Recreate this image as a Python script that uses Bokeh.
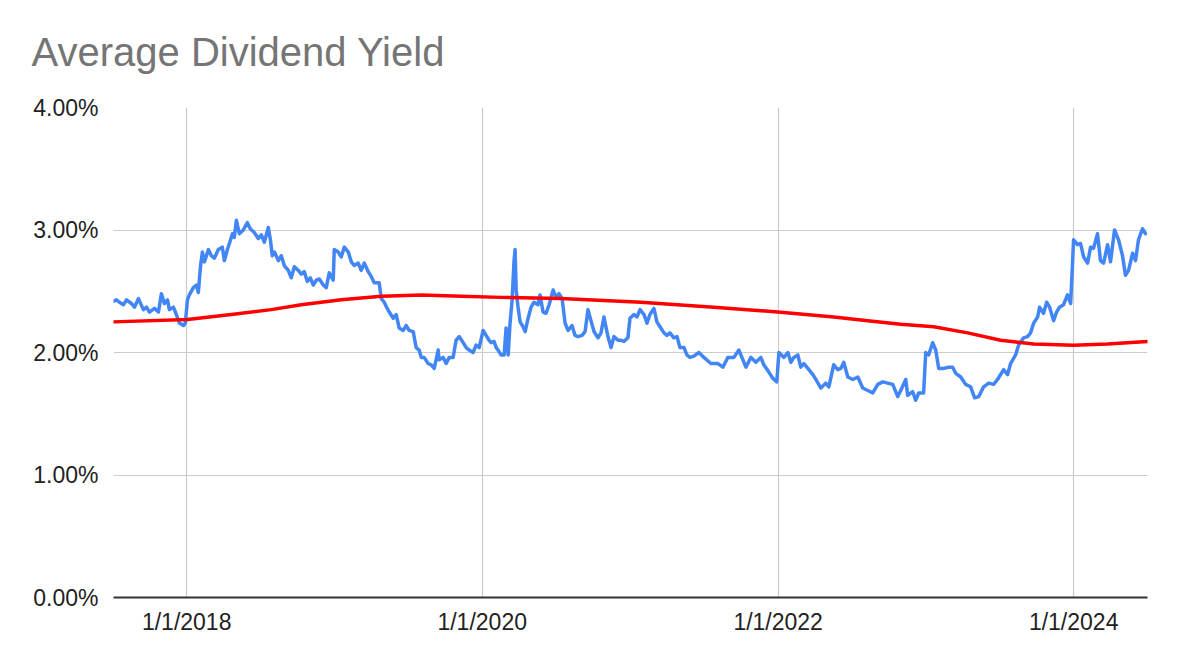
import numpy as np
import pandas as pd
from bokeh.plotting import figure
from bokeh.models import Range1d, FixedTicker, PrintfTickFormatter, Title
from bokeh.embed import file_html
from bokeh.resources import INLINE

# ---------------- data ----------------
# dates as decimal years, yields in percent
yield_years = [
    2017.511, 2017.525, 2017.545, 2017.572, 2017.593, 2017.626, 2017.647, 2017.674, 2017.707, 2017.728,
    2017.748, 2017.782, 2017.809, 2017.829, 2017.849, 2017.870, 2017.883, 2017.910, 2017.930, 2017.951,
    2017.978, 2017.991, 2018.005, 2018.018, 2018.045, 2018.066, 2018.079, 2018.093, 2018.106, 2018.120,
    2018.147, 2018.167, 2018.187, 2018.214, 2018.241, 2018.255, 2018.275, 2018.289, 2018.309, 2018.322,
    2018.336, 2018.356, 2018.383, 2018.410, 2018.430, 2018.457, 2018.484, 2018.505, 2018.525, 2018.552,
    2018.566, 2018.579, 2018.593, 2018.620, 2018.640, 2018.660, 2018.687, 2018.707, 2018.728, 2018.755,
    2018.775, 2018.795, 2018.816, 2018.836, 2018.856, 2018.876, 2018.897, 2018.924, 2018.944, 2018.964,
    2018.991, 2018.998, 2019.025, 2019.045, 2019.066, 2019.093, 2019.113, 2019.133, 2019.160, 2019.180,
    2019.201, 2019.228, 2019.248, 2019.268, 2019.302, 2019.316, 2019.336, 2019.356, 2019.370, 2019.397,
    2019.417, 2019.437, 2019.464, 2019.484, 2019.505, 2019.532, 2019.552, 2019.572, 2019.586, 2019.606,
    2019.633, 2019.653, 2019.674, 2019.701, 2019.707, 2019.734, 2019.755, 2019.775, 2019.802, 2019.822,
    2019.843, 2019.870, 2019.890, 2019.910, 2019.937, 2019.957, 2019.978, 2020.005, 2020.025, 2020.045,
    2020.059, 2020.079, 2020.093, 2020.106, 2020.126, 2020.147, 2020.160, 2020.174, 2020.187, 2020.201,
    2020.214, 2020.221, 2020.228, 2020.241, 2020.255, 2020.275, 2020.289, 2020.309, 2020.329, 2020.349,
    2020.376, 2020.390, 2020.410, 2020.430, 2020.451, 2020.478, 2020.498, 2020.518, 2020.539, 2020.559,
    2020.579, 2020.606, 2020.626, 2020.647, 2020.674, 2020.694, 2020.714, 2020.734, 2020.755, 2020.782,
    2020.802, 2020.822, 2020.849, 2020.870, 2020.890, 2020.917, 2020.937, 2020.957, 2020.984, 2020.998,
    2021.025, 2021.045, 2021.066, 2021.093, 2021.113, 2021.133, 2021.160, 2021.180, 2021.201, 2021.228,
    2021.248, 2021.268, 2021.295, 2021.316, 2021.336, 2021.363, 2021.383, 2021.403, 2021.430, 2021.464,
    2021.498, 2021.545, 2021.593, 2021.626, 2021.660, 2021.701, 2021.734, 2021.762, 2021.782, 2021.816,
    2021.849, 2021.883, 2021.903, 2021.937, 2021.964, 2021.991, 2022.005, 2022.039, 2022.066, 2022.086,
    2022.106, 2022.133, 2022.153, 2022.174, 2022.201, 2022.235, 2022.255, 2022.289, 2022.322, 2022.343,
    2022.376, 2022.403, 2022.424, 2022.444, 2022.471, 2022.505, 2022.539, 2022.572, 2022.606, 2022.640,
    2022.674, 2022.707, 2022.741, 2022.775, 2022.809, 2022.829, 2022.863, 2022.876, 2022.910, 2022.930,
    2022.951, 2022.984, 2022.998, 2023.018, 2023.045, 2023.066, 2023.086, 2023.120, 2023.153, 2023.180,
    2023.201, 2023.235, 2023.268, 2023.302, 2023.329, 2023.356, 2023.390, 2023.424, 2023.457, 2023.484,
    2023.505, 2023.525, 2023.552, 2023.572, 2023.606, 2023.626, 2023.660, 2023.687, 2023.707, 2023.728,
    2023.755, 2023.768, 2023.795, 2023.816, 2023.836, 2023.863, 2023.883, 2023.903, 2023.930, 2023.957,
    2023.978, 2023.991, 2023.998, 2024.025, 2024.045, 2024.066, 2024.093, 2024.113, 2024.133, 2024.160,
    2024.180, 2024.201, 2024.228, 2024.248, 2024.275, 2024.302, 2024.329, 2024.349, 2024.370, 2024.397,
    2024.417, 2024.437, 2024.464, 2024.484,
]
yield_pct = [
    2.42, 2.43, 2.41, 2.39, 2.43, 2.40, 2.37, 2.44, 2.35, 2.37,
    2.33, 2.36, 2.33, 2.48, 2.40, 2.43, 2.35, 2.37, 2.31, 2.24,
    2.22, 2.24, 2.43, 2.47, 2.53, 2.55, 2.49, 2.70, 2.82, 2.74,
    2.84, 2.79, 2.77, 2.84, 2.86, 2.75, 2.84, 2.89, 2.97, 2.94,
    3.08, 2.97, 3.00, 3.06, 3.01, 2.98, 2.93, 2.96, 2.90, 3.02,
    2.92, 2.79, 2.82, 2.75, 2.79, 2.71, 2.67, 2.61, 2.70, 2.67,
    2.64, 2.66, 2.58, 2.61, 2.55, 2.59, 2.60, 2.55, 2.53, 2.65,
    2.59, 2.84, 2.82, 2.78, 2.86, 2.82, 2.74, 2.71, 2.73, 2.67,
    2.73, 2.66, 2.62, 2.57, 2.57, 2.44, 2.41, 2.36, 2.33, 2.28,
    2.31, 2.20, 2.18, 2.22, 2.18, 2.17, 2.04, 2.02, 1.96, 1.96,
    1.91, 1.90, 1.87, 2.02, 1.94, 1.96, 1.91, 1.96, 1.96, 2.10,
    2.13, 2.08, 2.04, 2.02, 2.00, 2.06, 2.04, 2.18, 2.14, 2.10,
    2.08, 2.09, 2.04, 2.02, 1.98, 1.98, 2.20, 1.98, 2.24, 2.43,
    2.75, 2.84, 2.51, 2.37, 2.25, 2.21, 2.17, 2.28, 2.37, 2.41,
    2.39, 2.47, 2.33, 2.32, 2.39, 2.51, 2.45, 2.48, 2.44, 2.24,
    2.18, 2.22, 2.14, 2.13, 2.14, 2.17, 2.35, 2.26, 2.17, 2.12,
    2.16, 2.29, 2.13, 2.04, 2.13, 2.10, 2.10, 2.09, 2.12, 2.28,
    2.31, 2.29, 2.35, 2.31, 2.24, 2.31, 2.36, 2.25, 2.21, 2.16,
    2.14, 2.16, 2.12, 2.13, 2.04, 2.04, 1.98, 1.96, 1.97, 2.00,
    1.96, 1.91, 1.91, 1.88, 1.96, 1.96, 2.02, 1.94, 1.88, 1.96,
    1.92, 1.96, 1.90, 1.84, 1.79, 1.76, 2.00, 1.96, 2.00, 1.92,
    1.96, 1.98, 1.88, 1.91, 1.87, 1.82, 1.78, 1.71, 1.75, 1.72,
    1.90, 1.86, 1.87, 1.92, 1.80, 1.78, 1.80, 1.71, 1.69, 1.67,
    1.74, 1.76, 1.75, 1.74, 1.64, 1.69, 1.78, 1.65, 1.68, 1.61,
    1.67, 1.67, 2.00, 1.98, 2.08, 2.02, 1.87, 1.87, 1.88, 1.88,
    1.83, 1.80, 1.74, 1.72, 1.63, 1.64, 1.72, 1.75, 1.74, 1.78,
    1.82, 1.86, 1.82, 1.91, 1.98, 2.06, 2.12, 2.13, 2.16, 2.24,
    2.29, 2.37, 2.32, 2.41, 2.37, 2.26, 2.33, 2.37, 2.39, 2.47,
    2.40, 2.73, 2.92, 2.88, 2.89, 2.78, 2.73, 2.86, 2.85, 2.97,
    2.75, 2.73, 2.88, 2.74, 3.00, 2.92, 2.79, 2.63, 2.67, 2.81,
    2.75, 2.92, 3.01, 2.97,
]

# long-run average (red)
avg_years = [2017.505, 2018.005, 2018.302, 2018.572, 2018.775, 2019.045, 2019.316, 2019.586,
             2019.856, 2020.126, 2020.532, 2021.072, 2021.566, 2021.998, 2022.376, 2022.606,
             2022.829, 2023.052, 2023.282, 2023.505, 2023.728, 2023.998, 2024.228, 2024.498]
avg_pct = [2.25, 2.27, 2.31, 2.35, 2.39, 2.43, 2.46, 2.47,
           2.46, 2.45, 2.44, 2.41, 2.37, 2.33, 2.29, 2.26,
           2.23, 2.21, 2.16, 2.10, 2.07, 2.06, 2.07, 2.09]

x_span_years = [2017.505, 2024.498]
x_tick_labels = ["1/1/2018", "1/1/2020", "1/1/2022", "1/1/2024"]
y_ticks = [0, 1, 2, 3, 4]

title_text = "Average Dividend Yield"

# ---------------- helpers ----------------
BASE = pd.Timestamp("2018-01-01")


def to_dt(years):
    years = np.asarray(years, dtype=float)
    return BASE + pd.to_timedelta((years - 2018.0) * 365.25, unit="D")


def to_ms(ts):
    return int(pd.Timestamp(ts).value // 10**6)


x_tick_ms = [to_ms(pd.to_datetime(lbl, format="%m/%d/%Y")) for lbl in x_tick_labels]
span = to_dt(x_span_years)

FONT = "Liberation Sans"

p = figure(
    width=1164, height=645,
    x_axis_type="datetime",
    x_range=Range1d(span[0], span[1]),
    y_range=Range1d(0, 4),
    output_backend="svg",
    toolbar_location=None,
    min_border_left=113, min_border_right=17,
    min_border_top=107, min_border_bottom=48,
    background_fill_color="white", border_fill_color="white",
)
p.outline_line_color = None

# title: a small blank spacer title keeps the real title up near the top
spacer = Title(text=" ", text_font=FONT, text_font_size="10px", standoff=20,
               text_color="white")
main_title = Title(text=title_text, text_font=FONT, text_font_size="40px",
                   text_font_style="normal", text_color="#757575",
                   align="left", offset=-82, standoff=2)
p.add_layout(spacer, "above")
p.add_layout(main_title, "above")

# axes
xa = p.xaxis[0]
xa.ticker = FixedTicker(ticks=x_tick_ms)
xa.major_label_overrides = {ms: lbl for ms, lbl in zip(x_tick_ms, x_tick_labels)}
xa.major_tick_line_color = None
xa.minor_tick_line_color = None
xa.axis_line_color = "#333333"
xa.axis_line_width = 2
xa.major_label_text_font = FONT
xa.major_label_text_font_size = "23px"
xa.major_label_text_color = "#222222"
xa.major_label_standoff = 5

ya = p.yaxis[0]
ya.ticker = FixedTicker(ticks=y_ticks)
ya.formatter = PrintfTickFormatter(format="%.2f%%")
ya.major_tick_line_color = None
ya.minor_tick_line_color = None
ya.axis_line_color = None
ya.major_label_text_font = FONT
ya.major_label_text_font_size = "23px"
ya.major_label_text_color = "#222222"
ya.major_label_standoff = 9

p.xgrid.ticker = FixedTicker(ticks=x_tick_ms)
p.xgrid.grid_line_color = "#cccccc"
p.xgrid.grid_line_width = 1.2
p.ygrid.ticker = FixedTicker(ticks=y_ticks[1:])
p.ygrid.grid_line_color = "#cccccc"
p.ygrid.grid_line_width = 1.2

# series
p.line(to_dt(yield_years), yield_pct, line_color="#4285F4", line_width=3.5,
       line_join="round", line_cap="round")
p.line(to_dt(avg_years), avg_pct, line_color="#FF0000", line_width=3.5,
       line_join="round", line_cap="round")

open("out.html", "w").write(file_html(p, INLINE))
